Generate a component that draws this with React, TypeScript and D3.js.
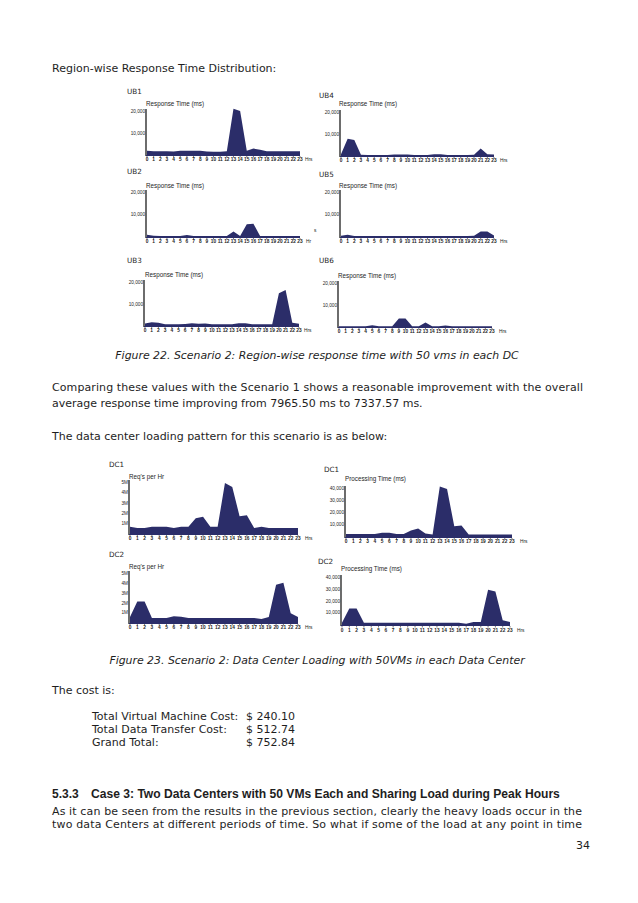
import React from "react";
import * as d3 from "d3";

// ---------- data ----------
const hours = [0, 1, 2, 3, 4, 5, 6, 7, 8, 9, 10, 11, 12, 13, 14, 15, 16, 17, 18, 19, 20, 21, 22, 23];

const ub1 = [2000, 1800, 1700, 1800, 1600, 2000, 2000, 2000, 2000, 1600, 1500, 1500, 1800, 21500, 20500, 2000, 3000, 2500, 1800, 1800, 1800, 1800, 1800, 1800];
const ub2 = [1000, 600, 500, 500, 500, 500, 900, 500, 500, 500, 500, 500, 500, 2500, 500, 5800, 6000, 500, 500, 500, 500, 500, 500, 500];
const ub3 = [1200, 1800, 1500, 800, 800, 800, 900, 1300, 1000, 1200, 800, 800, 800, 800, 1300, 1300, 800, 800, 800, 800, 15200, 16800, 1500, 1000];
const ub4 = [800, 8000, 7500, 600, 500, 500, 500, 500, 700, 700, 700, 500, 500, 500, 800, 800, 500, 500, 500, 500, 600, 3500, 800, 700];
const ub5 = [600, 1000, 500, 500, 500, 500, 500, 500, 500, 500, 500, 500, 500, 500, 500, 500, 500, 500, 500, 500, 600, 2500, 2500, 700];
const ub6 = [400, 400, 400, 400, 400, 800, 400, 400, 400, 4000, 4000, 400, 400, 2100, 400, 400, 700, 400, 400, 400, 400, 400, 400, 400];

const dc1Req = [0.7, 0.6, 0.6, 0.7, 0.7, 0.7, 0.6, 0.7, 0.7, 1.55, 1.7, 0.7, 0.7, 5.0, 4.6, 1.75, 1.85, 0.6, 0.7, 0.6, 0.6, 0.6, 0.6, 0.6];
const dc1Proc = [2500, 2500, 2500, 2500, 2500, 3500, 3500, 2500, 2500, 5500, 7000, 3000, 2000, 42000, 40000, 9000, 9500, 2000, 2000, 2000, 2000, 2000, 2000, 2000];
const dc2Req = [0.6, 2.2, 2.2, 0.5, 0.5, 0.5, 0.7, 0.65, 0.5, 0.5, 0.5, 0.5, 0.5, 0.5, 0.5, 0.5, 0.5, 0.5, 0.4, 0.6, 3.9, 4.1, 1.0, 0.6];
const dc2Proc = [2000, 14000, 14000, 2000, 2000, 2000, 2000, 2000, 2000, 2000, 2000, 2000, 2000, 2000, 2000, 2000, 2000, 1000, 2500, 2500, 30000, 28500, 4000, 2500];

const rtTicks = [10000, 20000];
const rtTickLabels = ["10,000", "20,000"];
const reqTicks = [1, 2, 3, 4, 5];
const reqTickLabels = ["1M", "2M", "3M", "4M", "5M"];
const procTicks = [10000, 20000, 30000, 40000];
const procTickLabels = ["10,000", "20,000", "30,000", "40,000"];

const NAVY = "#2b2d69";
const INK = "#1e1e1e";

type PanelCfg = {
  title: string; tx: number; ty: number;
  sub: string; sx: number; sy: number;
  axisX: number; x0: number; x23: number;
  yZero: number; yTop: number; maxTick: number;
  ticks: number[]; tickLabels: string[];
  labY: number; hrsX: number; hrsText: string;
  data: number[];
};

function Panel({ c }: { c: PanelCfg }) {
  const x = d3.scaleLinear().domain([0, 23]).range([c.x0, c.x23]);
  const y = d3.scaleLinear().domain([0, c.maxTick]).range([c.yZero, c.yTop]);
  const area = d3.area<number>()
    .x((_, i) => x(hours[i]))
    .y0(c.yZero)
    .y1((d) => y(d));
  const path = area(c.data) || "";
  return (
    <g>
      <text x={c.tx} y={c.ty} fontSize={7.2} fontFamily="DejaVu Sans" fill={INK} dominantBaseline="middle">{c.title}</text>
      <text x={c.sx} y={c.sy} fontSize={6.3} fontFamily="Liberation Sans" fill={INK} dominantBaseline="middle">{c.sub}</text>
      <path d={path} fill={NAVY} />
      <line x1={c.axisX} x2={c.axisX} y1={c.yZero + 1} y2={c.yTop - 3} stroke={INK} strokeWidth={1.3} />
      <line x1={c.axisX} x2={c.x23} y1={c.yZero + 0.5} y2={c.yZero + 0.5} stroke={NAVY} strokeWidth={1} />
      {c.ticks.map((t, i) => (
        <text key={t} x={c.axisX - 1} y={y(t)} fontSize={4.7} fontFamily="Liberation Sans" fill={INK} textAnchor="end" dominantBaseline="middle">{c.tickLabels[i]}</text>
      ))}
      {hours.map((h) => (
        <g key={h}>
          <line x1={x(h)} x2={x(h)} y1={c.yZero + 1} y2={c.yZero + 2.5} stroke={INK} strokeWidth={0.6} />
          <text x={x(h)} y={c.labY} fontSize={4.8} fontWeight="bold" fontFamily="Liberation Sans Narrow, Liberation Sans" fill={INK} textAnchor="middle" dominantBaseline="middle">{h}</text>
        </g>
      ))}
      <text x={c.hrsX} y={c.labY} fontSize={4.8} fontFamily="Liberation Sans" fill={INK} dominantBaseline="middle">{c.hrsText}</text>
    </g>
  );
}

const rt = (d: number[]) => ({ maxTick: 20000, ticks: rtTicks, tickLabels: rtTickLabels, data: d, sub: "Response Time (ms)" });

const panels: PanelCfg[] = [
  { ...rt(ub1), title: "UB1", tx: 127, ty: 92, sx: 146, sy: 104, axisX: 146, x0: 147, x23: 300, yZero: 155, yTop: 112, labY: 159.5, hrsX: 305, hrsText: "Hrs" },
  { ...rt(ub2), title: "UB2", tx: 127, ty: 172, sx: 146, sy: 186, axisX: 146, x0: 147, x23: 300, yZero: 237, yTop: 193, labY: 241.5, hrsX: 306, hrsText: "Hr" },
  { ...rt(ub3), title: "UB3", tx: 127, ty: 261, sx: 145, sy: 275, axisX: 144, x0: 145, x23: 299, yZero: 326, yTop: 283, labY: 331, hrsX: 304, hrsText: "Hrs" },
  { ...rt(ub4), title: "UB4", tx: 319, ty: 96, sx: 339, sy: 104, axisX: 340, x0: 341, x23: 494, yZero: 156, yTop: 113, labY: 161, hrsX: 500, hrsText: "Hrs" },
  { ...rt(ub5), title: "UB5", tx: 319, ty: 175, sx: 339, sy: 186, axisX: 340, x0: 341, x23: 494, yZero: 237, yTop: 193, labY: 242, hrsX: 500, hrsText: "Hrs" },
  { ...rt(ub6), title: "UB6", tx: 319, ty: 261, sx: 338, sy: 276, axisX: 338, x0: 339, x23: 492, yZero: 327, yTop: 284, labY: 332, hrsX: 499, hrsText: "Hrs" },
  { title: "DC1", tx: 109, ty: 465, sub: "Req's per Hr", sx: 129, sy: 477, axisX: 129, x0: 130, x23: 298, yZero: 534, yTop: 483, maxTick: 5, ticks: reqTicks, tickLabels: reqTickLabels, labY: 539, hrsX: 305, hrsText: "Hrs", data: dc1Req },
  { title: "DC1", tx: 324, ty: 470, sub: "Processing Time (ms)", sx: 345, sy: 479, axisX: 345, x0: 346, x23: 512, yZero: 537, yTop: 489, maxTick: 40000, ticks: procTicks, tickLabels: procTickLabels, labY: 542, hrsX: 520, hrsText: "Hrs", data: dc1Proc },
  { title: "DC2", tx: 109, ty: 555, sub: "Req's per Hr", sx: 129, sy: 567, axisX: 129, x0: 130, x23: 298, yZero: 623, yTop: 574, maxTick: 5, ticks: reqTicks, tickLabels: reqTickLabels, labY: 628, hrsX: 305, hrsText: "Hrs", data: dc2Req },
  { title: "DC2", tx: 318, ty: 562, sub: "Processing Time (ms)", sx: 341, sy: 569, axisX: 341, x0: 342, x23: 510, yZero: 625, yTop: 578, maxTick: 40000, ticks: procTicks, tickLabels: procTickLabels, labY: 631, hrsX: 517, hrsText: "Hrs", data: dc2Proc },
];

const bodyFont = "DejaVu Sans";

export default function App() {
  return (
    <svg width={638} height={903} style={{ position: "absolute", left: 0, top: 0, background: "#fff" }}>
      <rect x={0} y={0} width={638} height={903} fill="#fff" />
      <g fontFamily={bodyFont} fontSize={11} fill={INK}>
        <text x={52} y={72}>Region-wise Response Time Distribution:</text>
        <text x={317} y={359} textAnchor="middle" fontStyle="italic" fontSize={10.9}>Figure 22. Scenario 2: Region-wise response time with 50 vms in each DC</text>
        <text x={52} y={391} textLength={531} lengthAdjust="spacing">Comparing these values with the Scenario 1 shows a reasonable improvement with the overall</text>
        <text x={52} y={407}>average response time improving from 7965.50 ms to 7337.57 ms.</text>
        <text x={52} y={440}>The data center loading pattern for this scenario is as below:</text>
        <text x={317} y={664} textAnchor="middle" fontStyle="italic" fontSize={10.9}>Figure 23. Scenario 2: Data Center Loading with 50VMs in each Data Center</text>
        <text x={52} y={694}>The cost is:</text>
        <text x={92} y={720}>Total Virtual Machine Cost:</text>
        <text x={246} y={720}>$ 240.10</text>
        <text x={92} y={733}>Total Data Transfer Cost:</text>
        <text x={246} y={733}>$ 512.74</text>
        <text x={92} y={746}>Grand Total:</text>
        <text x={246} y={746}>$ 752.84</text>
        <text x={52} y={798} fontFamily="Liberation Sans" fontWeight="bold" fontSize={12}>5.3.3</text>
        <text x={91} y={798} fontFamily="Liberation Sans" fontWeight="bold" fontSize={12.1}>Case 3: Two Data Centers with 50 VMs Each and Sharing Load during Peak Hours</text>
        <text x={52} y={815} textLength={530} lengthAdjust="spacing">As it can be seen from the results in the previous section, clearly the heavy loads occur in the</text>
        <text x={52} y={828} textLength={530} lengthAdjust="spacing">two data Centers at different periods of time. So what if some of the load at any point in time</text>
        <text x={590} y={849} textAnchor="end">34</text>
      </g>
      <text x={314} y={232} fontSize={4.8} fontFamily="Liberation Sans" fill={INK}>s</text>
      {panels.map((p, i) => <Panel key={i} c={p} />)}
    </svg>
  );
}
